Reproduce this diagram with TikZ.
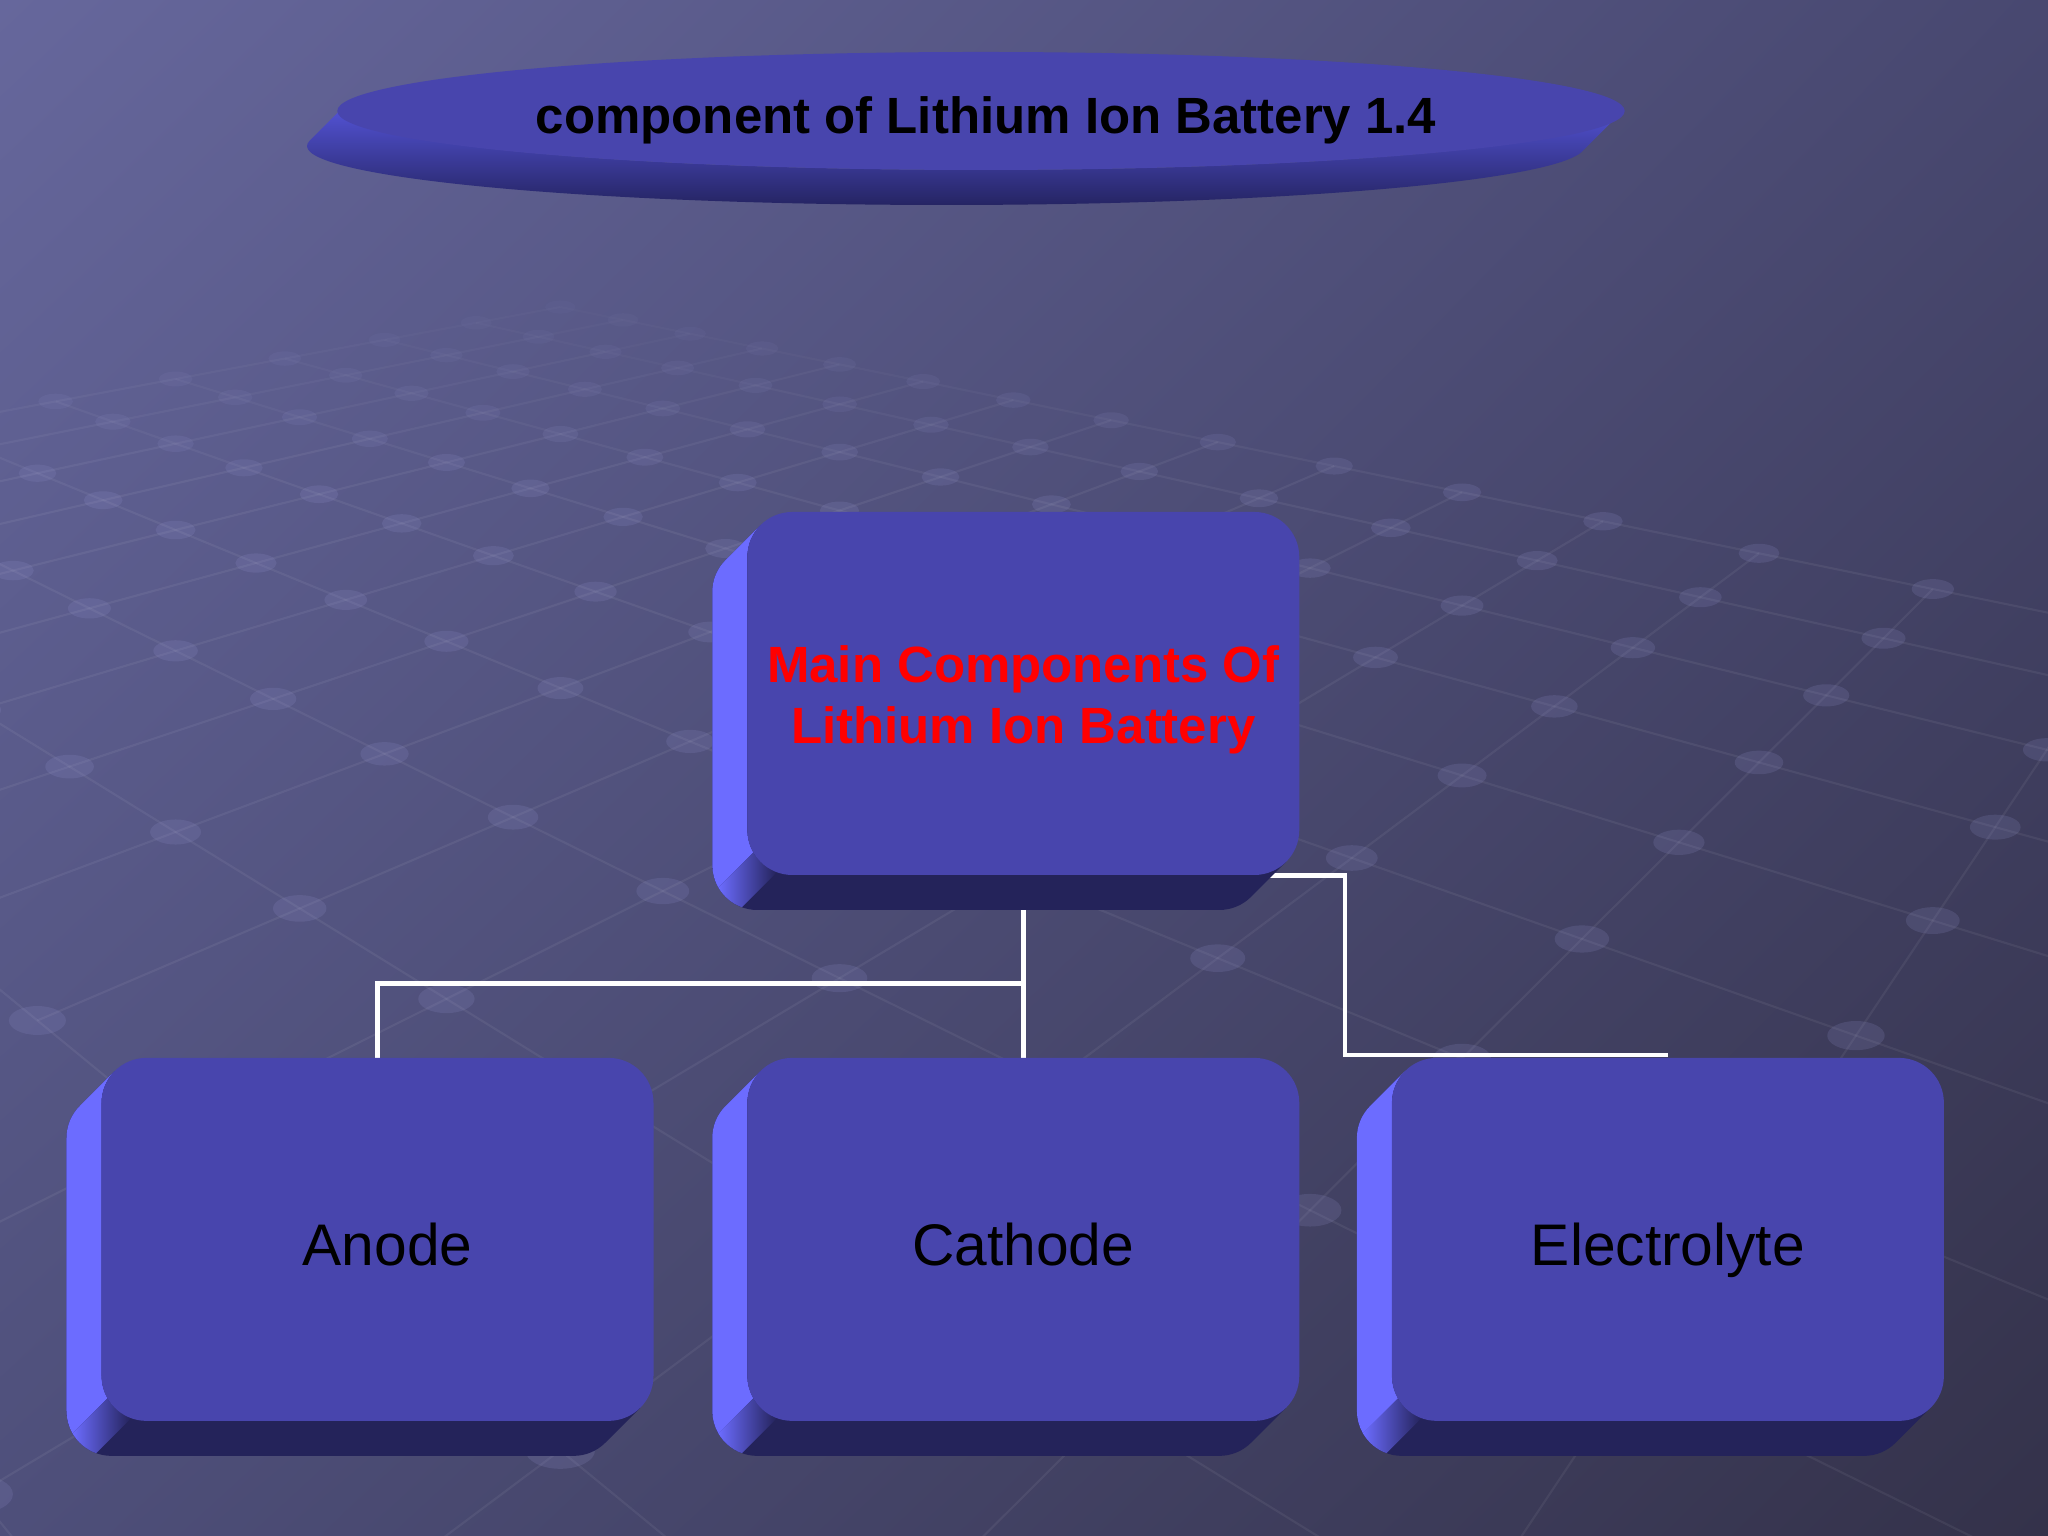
\documentclass[tikz,border=0pt]{standalone}
\usepackage{fontspec}
\setmainfont{Liberation Sans}
\usetikzlibrary{shapes.geometric,shadings}

\definecolor{facecol}{RGB}{72,69,173}
\definecolor{sidelight}{RGB}{108,108,255}
\definecolor{sidedark}{RGB}{36,35,90}
\definecolor{titletop}{RGB}{84,84,215}
\definecolor{titlebot}{RGB}{36,35,96}
\definecolor{bgul}{RGB}{102,103,156}
\definecolor{bgur}{RGB}{72,72,112}
\definecolor{bgll}{RGB}{78,79,122}
\definecolor{bglr}{RGB}{52,50,74}
\definecolor{ballcol}{RGB}{150,150,210}

\pgfdeclarelayer{bg}
\pgfdeclarelayer{links}
\pgfsetlayers{bg,links,main}

\newcommand{\slabd}{0.35}
\newcommand{\slabr}{0.45}
% side walls of a raised box: centre x, centre y, width, height
\newcommand{\drawslab}[4]{%
  \pgfmathsetmacro\xa{#1-#3/2}\pgfmathsetmacro\xb{#1+#3/2}%
  \pgfmathsetmacro\ya{#2-#4/2}\pgfmathsetmacro\yb{#2+#4/2}%
  \pgfmathsetmacro\ta{\slabr*(1-0.7071)}%
  \fill[sidedark] (\xa+\ta,\yb-\ta) -- ++(-\slabd,-\slabd)
    arc[start angle=135, end angle=180, radius=\slabr]
    -- (\xa-\slabd,\ya+\slabr-\slabd)
    arc[start angle=180, end angle=270, radius=\slabr]
    -- (\xb-\slabr-\slabd,\ya-\slabd)
    arc[start angle=270, end angle=315, radius=\slabr]
    -- (\xb-\ta,\ya+\ta) -- cycle;
  \fill[sidelight] (\xa+\ta,\yb-\ta) -- ++(-\slabd,-\slabd)
    arc[start angle=135, end angle=180, radius=\slabr]
    -- (\xa-\slabd,\ya+\slabr-\slabd)
    arc[start angle=180, end angle=210, radius=\slabr]
    -- ++(\slabd,\slabd)
    arc[start angle=210, end angle=180, radius=\slabr]
    -- (\xa,\yb-\slabr)
    arc[start angle=180, end angle=135, radius=\slabr] -- cycle;
  \shade[left color=sidelight, right color=sidedark]
    ({\xa+\slabr-\slabd+\slabr*cos(210)},{\ya+\slabr-\slabd+\slabr*sin(210)})
    arc[start angle=210, end angle=250, radius=\slabr]
    -- ++(\slabd,\slabd)
    arc[start angle=250, end angle=210, radius=\slabr] -- cycle;
}

\begin{document}
\begin{tikzpicture}[
    face/.style={rectangle, rounded corners=\slabr cm, fill=facecol,
      minimum width=5.52cm, minimum height=3.63cm, inner sep=0pt},
    part/.style={face, font=\fontsize{16.7}{20}\selectfont,
      text height=15pt, text depth=0pt},
    link/.style={draw=white, line width=1.3pt},
    gridline/.style={draw=white, line width=0.6pt},
    gridball/.style={fill=ballcol}]
  \useasboundingbox (0,0) rectangle (20.48,15.36);

  % backdrop with a floor of balls and rods
  \begin{pgfonlayer}{bg}
    \shade[upper left=bgul, upper right=bgur, lower left=bgll, lower right=bglr]
      (0,0) rectangle (20.48,15.36);
    \begin{scope}
      \clip (0,0) rectangle (20.48,12.9);
      \foreach \i in {-16,...,8}{
        \foreach \j in {-6,...,12}{
          \pgfmathsetmacro\gp{0.135*(0.772*\i+0.636*\j)}
          \pgfmathsetmacro\gq{max(0.3,0.135*(-0.636*\i+0.772*\j))}
          \pgfmathsetmacro\gx{10.24+19.1*\gp/\gq}
          \pgfmathsetmacro\gy{16.1-10/\gq}
          \coordinate (g\i-\j) at (\gx,\gy);
        }
      }
      \foreach \i in {-16,...,8}{
        \foreach \j in {-6,...,12}{
          \pgfmathsetmacro\gp{0.135*(0.772*\i+0.636*\j)}
          \pgfmathsetmacro\gq{max(0.3,0.135*(-0.636*\i+0.772*\j))}
          \pgfmathsetmacro\gx{10.24+19.1*\gp/\gq}
          \pgfmathsetmacro\gy{16.1-10/\gq}
          \pgfmathparse{(\gy<13)&&(\gy>-3)&&(abs(\gx-10.24)<13)}
          \ifdim\pgfmathresult pt>0.5pt
            \pgfmathsetmacro\gf{max(0,min(1,(12.9-\gy)/2.5))}
            \pgfmathtruncatemacro\ii{\i+1}
            \pgfmathtruncatemacro\jj{\j+1}
            \ifnum\i<8
              \draw[gridline, opacity=0.06*\gf] (g\i-\j) -- (g\ii-\j);
            \fi
            \ifnum\j<12
              \draw[gridline, opacity=0.06*\gf] (g\i-\j) -- (g\i-\jj);
            \fi
            \fill[gridball, opacity=0.17*\gf] (g\i-\j)
              ellipse[x radius={0.27/\gq^0.6}, y radius={0.135/\gq^0.75}];
          \fi
        }
      }
    \end{scope}
  \end{pgfonlayer}

  % title disc
  \coordinate (tc) at (9.81,14.25);
  \shade[top color=titletop, bottom color=titlebot]
    ([shift={(174.74:6.39 and 0.59)}]tc) -- ++(-\slabd,-\slabd)
    arc[start angle=174.74, end angle=354.74, x radius=6.39, y radius=0.59]
    -- ++(\slabd,\slabd)
    arc[start angle=354.74, end angle=174.74, x radius=6.39, y radius=0.59] -- cycle;
  \node[ellipse, fill=facecol, minimum width=12.78cm, minimum height=1.18cm,
    inner sep=0pt, text height=13pt, text depth=0pt,
    font=\bfseries\fontsize{14.5}{17.4}\selectfont] (title) at (tc)
    {\hspace{0.1cm}component of Lithium Ion Battery 1.4};

  % boxes
  \drawslab{10.233}{8.425}{5.52}{3.63}
  \drawslab{3.775}{2.966}{5.52}{3.63}
  \drawslab{10.233}{2.966}{5.52}{3.63}
  \drawslab{16.679}{2.966}{5.52}{3.63}

  \node[face, text=red, align=center, font=\bfseries\fontsize{14.5}{17.4}\selectfont]
    (main) at (10.233,8.425) {\rule{0pt}{0.5cm}Main Components Of\\Lithium Ion Battery};
  \node[part] (anode) at (3.775,2.966) {\hspace{0.2cm}Anode};
  \node[part] (cathode) at (10.233,2.966) {Cathode};
  \node[part] (electrolyte) at (16.679,2.966) {Electrolyte};

  % connectors
  \coordinate (bus) at (0,5.525);
  \coordinate (ejog) at (13.45,4.81);
  \begin{pgfonlayer}{links}
    \draw[link] (main.center) -- (cathode.center);
    \draw[link] (main.center |- bus) -| (anode.center);
    \draw[link] (main.south) -| (ejog) -- (electrolyte.north |- ejog);
  \end{pgfonlayer}
\end{tikzpicture}
\end{document}
